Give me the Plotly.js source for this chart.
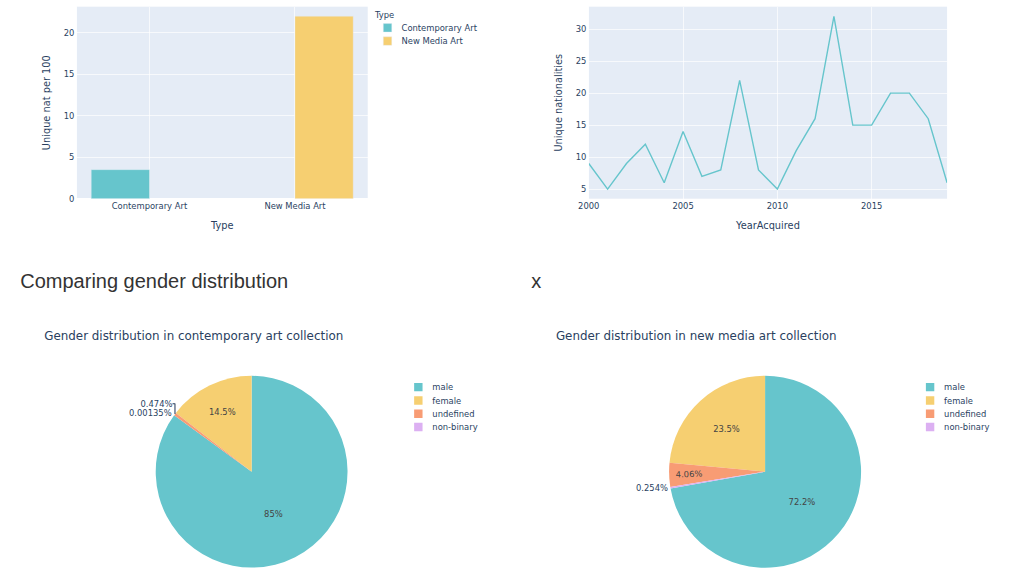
<!DOCTYPE html>
<html>
<head>
<meta charset="utf-8">
<script src="https://cdn.plot.ly/plotly-3.0.1.min.js"></script>
<style>
  html, body { margin: 0; padding: 0; background: #fff; overflow: hidden; }
  #wrap { width: 1024px; height: 581px; overflow: hidden; position: relative; }
  #chart { position: absolute; left: 0; top: 0; transform-origin: 0 0; }
</style>
</head>
<body>
<div id="wrap"><div id="chart"></div></div>
<script>
// ---- data ----
const barTypes = ['Contemporary Art', 'New Media Art'];
const uniqueNatPer100 = [3.5, 22];

const years = [2000, 2001, 2002, 2003, 2004, 2005, 2006, 2007, 2008, 2009,
               2010, 2011, 2012, 2013, 2014, 2015, 2016, 2017, 2018, 2019];
const uniqueNationalities = [9, 5, 9, 12, 6, 14, 7, 8, 22, 8,
                             5, 11, 16, 32, 15, 15, 20, 20, 16, 6];

const genderLabels = ['male', 'female', 'undefined', 'non-binary'];
const contemporaryGender = [85.02, 14.5, 0.474, 0.00135];
const newMediaGender = [72.2, 23.5, 4.06, 0.254];

const colors = ['#66C5CC', '#F6CF71', '#F89C74', '#DCB0F2'];

// ---- geometry helpers (target pixel -> paper fraction) ----
const S = 0.7;
const W = 1024, H = 581;
const fx = p => p / W;
const fy = p => 1 - p / H;

const chartDiv = document.getElementById('chart');
chartDiv.style.transform = 'scale(' + S + ')';

const txt = '#2a3f5f';
const fontFam = '"DejaVu Sans", Verdana, sans-serif';

const traces = [
  {
    type: 'bar', name: barTypes[0], x: [barTypes[0]], y: [uniqueNatPer100[0]],
    marker: { color: colors[0], line: { color: '#E5ECF6', width: 0.5 } },
    offsetgroup: barTypes[0], alignmentgroup: 'True',
    xaxis: 'x', yaxis: 'y', legend: 'legend', legendgroup: barTypes[0]
  },
  {
    type: 'bar', name: barTypes[1], x: [barTypes[1]], y: [uniqueNatPer100[1]],
    marker: { color: colors[1], line: { color: '#E5ECF6', width: 0.5 } },
    offsetgroup: barTypes[1], alignmentgroup: 'True',
    xaxis: 'x', yaxis: 'y', legend: 'legend', legendgroup: barTypes[1]
  },
  {
    type: 'scatter', mode: 'lines', x: years, y: uniqueNationalities,
    line: { color: colors[0], width: 2 }, showlegend: false,
    xaxis: 'x2', yaxis: 'y2'
  },
  {
    type: 'pie', labels: genderLabels, values: contemporaryGender,
    marker: { colors: colors }, legend: 'legend2', legendgroup: 'pie1',
    domain: { x: [fx(155.7), fx(347.5)], y: [fy(567.7), fy(375.7)] }
  },
  {
    type: 'pie', labels: genderLabels, values: newMediaGender,
    marker: { colors: colors }, legend: 'legend3', legendgroup: 'pie2',
    domain: { x: [fx(669), fx(861)], y: [fy(567.7), fy(375.7)] }
  }
];

const axisCommon = {
  gridcolor: 'white', linecolor: 'white', zerolinecolor: 'white', zerolinewidth: 2,
  ticks: '', automargin: false, tickfont: { size: 12, color: txt }
};

const legendCommon = {
  font: { size: 12, color: txt, family: fontFam },
  bgcolor: 'rgba(0,0,0,0)', xanchor: 'left', yanchor: 'top'
};

const layout = {
  width: Math.round(W / S), height: Math.round(H / S),
  margin: { l: 0, r: 0, t: 0, b: 0 },
  paper_bgcolor: 'white', plot_bgcolor: '#E5ECF6',
  font: { family: fontFam, size: 12, color: txt },
  barmode: 'group',
  showlegend: true,
  xaxis: Object.assign({}, axisCommon, {
    domain: [fx(76.7), fx(367.7)], anchor: 'y',
    title: { text: 'Type', font: { size: 14, color: txt }, standoff: 15 }
  }),
  yaxis: Object.assign({}, axisCommon, {
    domain: [fy(198.7), fy(6.7)], anchor: 'x', range: [0, 23.16],
    title: { text: 'Unique nat per 100', font: { size: 14, color: txt } }
  }),
  xaxis2: Object.assign({}, axisCommon, {
    domain: [fx(588.7), fx(947)], anchor: 'y2', range: [2000, 2019],
    title: { text: 'YearAcquired', font: { size: 14, color: txt }, standoff: 15 }
  }),
  yaxis2: Object.assign({}, axisCommon, {
    domain: [fy(198.7), fy(6.7)], anchor: 'x2', range: [3.5, 33.5],
    title: { text: 'Unique nationalities', font: { size: 14, color: txt } }
  }),
  legend: Object.assign({}, legendCommon, {
    x: fx(373.5), y: fy(6.7), title: { text: 'Type', font: { size: 12, color: txt } },
    tracegroupgap: 0
  }),
  legend2: Object.assign({}, legendCommon, { x: fx(404.3), y: fy(377) }),
  legend3: Object.assign({}, legendCommon, { x: fx(916), y: fy(377) }),
  annotations: [
    {
      text: 'Comparing gender distribution', xref: 'paper', yref: 'paper',
      x: fx(19), y: fy(281), xanchor: 'left', yanchor: 'middle', showarrow: false,
      font: { family: '"Liberation Sans", Arial, sans-serif', size: 20 / S, color: '#333' }
    },
    {
      text: 'x', xref: 'paper', yref: 'paper',
      x: fx(530), y: fy(281), xanchor: 'left', yanchor: 'middle', showarrow: false,
      font: { family: '"Liberation Sans", Arial, sans-serif', size: 20 / S, color: '#333' }
    },
    {
      text: 'Gender distribution in contemporary art collection', xref: 'paper', yref: 'paper',
      x: fx(43), y: fy(336), xanchor: 'left', yanchor: 'middle', showarrow: false,
      font: { family: fontFam, size: 17, color: txt }
    },
    {
      text: 'Gender distribution in new media art collection', xref: 'paper', yref: 'paper',
      x: fx(554), y: fy(336), xanchor: 'left', yanchor: 'middle', showarrow: false,
      font: { family: fontFam, size: 17, color: txt }
    }
  ]
};

Plotly.newPlot(chartDiv, traces, layout, { displayModeBar: false, staticPlot: true });
</script>
</body>
</html>
